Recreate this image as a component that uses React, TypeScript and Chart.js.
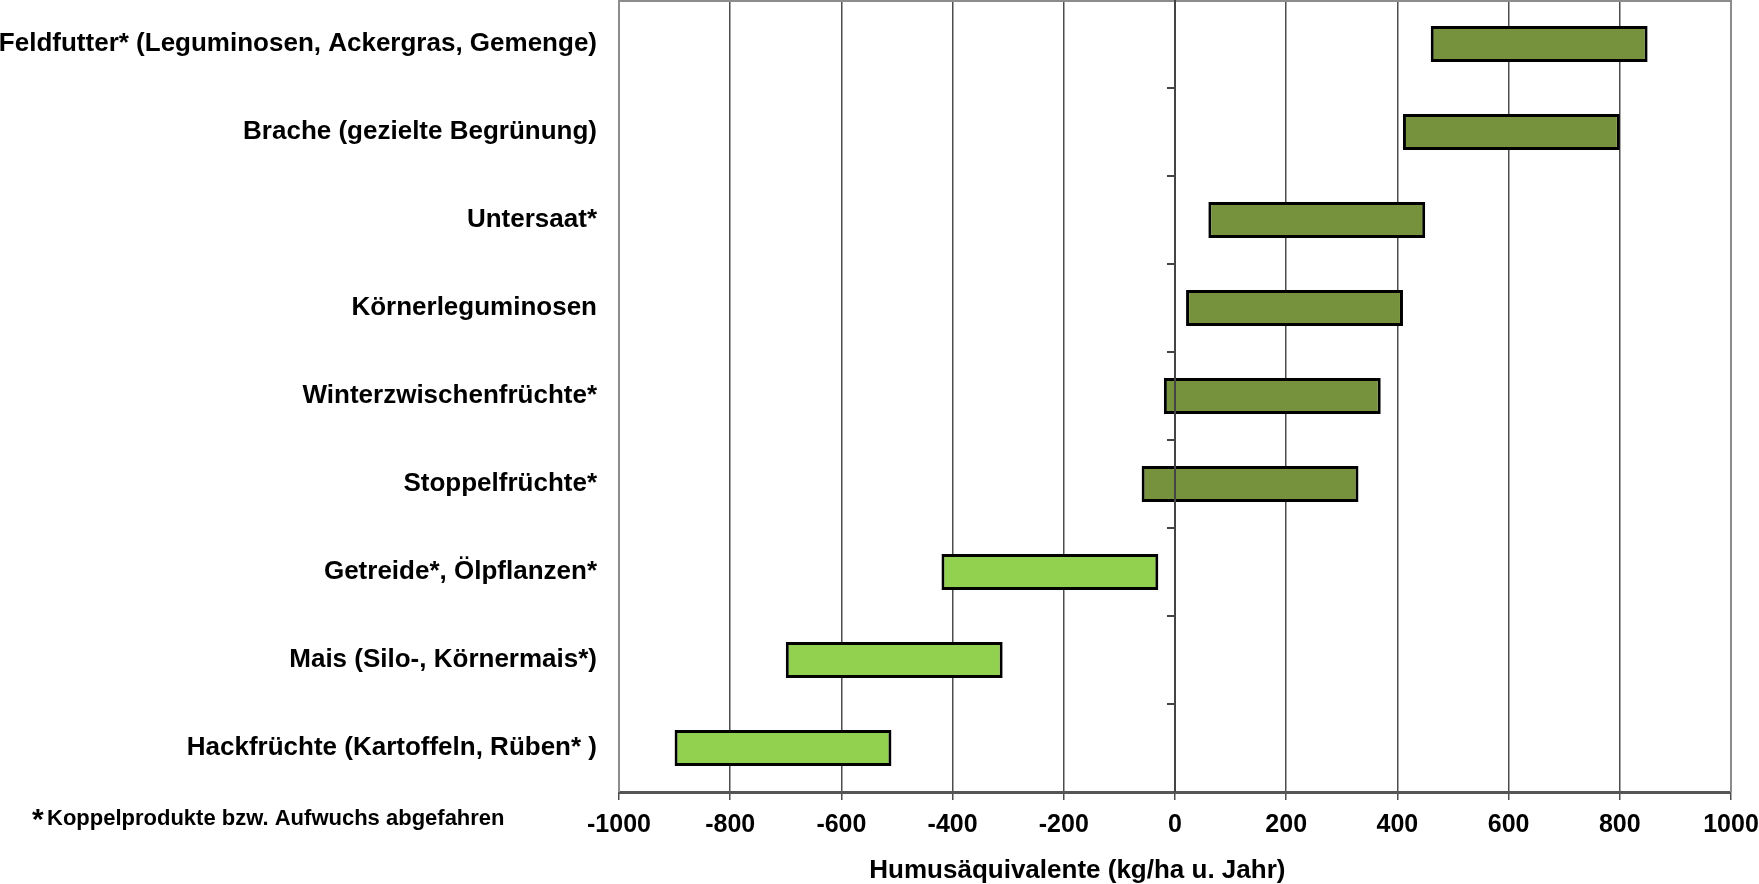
import { useEffect, useRef } from "react";
import Chart from "chart.js/auto";

// Kategorien (von oben nach unten) und Spannweiten der Humusäquivalente
const categories = [
  "Feldfutter* (Leguminosen, Ackergras, Gemenge)",
  "Brache (gezielte Begrünung)",
  "Untersaat*",
  "Körnerleguminosen",
  "Winterzwischenfrüchte*",
  "Stoppelfrüchte*",
  "Getreide*, Ölpflanzen*",
  "Mais (Silo-, Körnermais*)",
  "Hackfrüchte (Kartoffeln, Rüben* )",
];
const lowValues = [460, 410, 60, 20, -20, -60, -420, -700, -900];
const highValues = [850, 800, 450, 410, 370, 330, -30, -310, -510];

const xMin = -1000;
const xMax = 1000;
const xStep = 200;

const axisTitle = "Humusäquivalente (kg/ha u. Jahr)";
const footnoteMark = "*";
const footnoteText = "Koppelprodukte bzw. Aufwuchs abgefahren";

const FONT = '"Liberation Sans", Arial, sans-serif';
const DARK_GREEN = "#77923c";
const LIGHT_GREEN = "#92d050";
const Y_AXIS_WIDTH = 619;

const overlayPlugin = {
  id: "overlay",
  beforeDatasetsDraw(chart: Chart) {
    const { ctx, chartArea: a } = chart;
    ctx.save();
    ctx.strokeStyle = "#8c8c8c";
    ctx.lineWidth = 2;
    ctx.beginPath();
    ctx.moveTo(a.left, a.bottom);
    ctx.lineTo(a.left, a.top + 1);
    ctx.lineTo(a.right, a.top + 1);
    ctx.lineTo(a.right, a.bottom);
    ctx.stroke();
    ctx.restore();
  },
  afterDatasetsDraw(chart: Chart) {
    const { ctx, chartArea: a } = chart;
    const xs = chart.scales.x;
    const ys = chart.scales.y;
    const x0 = Math.round(xs.getPixelForValue(0));
    ctx.save();
    ctx.strokeStyle = "#444";
    ctx.lineWidth = 2;
    ctx.beginPath();
    ctx.moveTo(x0, a.top);
    ctx.lineTo(x0, a.bottom);
    // kleine Teilstriche zwischen den Kategorien
    for (let i = 1; i < categories.length; i++) {
      const y = Math.round(
        (ys.getPixelForValue(i - 1) + ys.getPixelForValue(i)) / 2,
      );
      ctx.moveTo(x0 - 8, y);
      ctx.lineTo(x0, y);
    }
    ctx.stroke();
    ctx.restore();
  },
  afterDraw(chart: Chart) {
    const { ctx, chartArea: a } = chart;
    ctx.save();
    ctx.fillStyle = "#000";
    ctx.textBaseline = "alphabetic";

    ctx.font = `bold 26px ${FONT}`;
    ctx.textAlign = "center";
    ctx.fillText(axisTitle, chart.width * 0.6125, chart.height - 6);

    ctx.textAlign = "left";
    ctx.font = `bold 30px ${FONT}`;
    ctx.fillText(footnoteMark, 32, a.bottom + 37);
    ctx.font = `bold 22px ${FONT}`;
    ctx.fillText(footnoteText, 47, a.bottom + 33);
    ctx.restore();
  },
};

const RangeChart = () => {
  const chartRef = useRef<HTMLCanvasElement | null>(null);
  const chartInstanceRef = useRef<Chart | null>(null);

  useEffect(() => {
    if (!chartRef.current) return;
    if (chartInstanceRef.current) chartInstanceRef.current.destroy();

    const ranges = categories.map((_, i) => [lowValues[i], highValues[i]]);
    const colors = highValues.map((v) => (v > 0 ? DARK_GREEN : LIGHT_GREEN));

    chartInstanceRef.current = new Chart(chartRef.current, {
      type: "bar",
      data: {
        labels: categories,
        datasets: [
          {
            data: ranges as any,
            backgroundColor: colors,
            borderColor: "#000",
            borderWidth: 3,
            borderSkipped: false,
            barPercentage: 0.41,
            categoryPercentage: 1,
          },
        ],
      },
      options: {
        indexAxis: "y",
        animation: false,
        responsive: true,
        maintainAspectRatio: false,
        layout: { padding: { top: 0, bottom: 34, left: 0, right: 0 } },
        plugins: {
          legend: { display: false },
          tooltip: { enabled: false },
        },
        scales: {
          x: {
            min: xMin,
            max: xMax,
            ticks: {
              stepSize: xStep,
              color: "#000",
              font: { family: FONT, size: 25, weight: "bold" },
              padding: 10,
              callback: (v) => String(v),
            },
            grid: {
              color: "#4d4d4d",
              lineWidth: 1.5,
              tickLength: 8,
              drawTicks: true,
            },
            border: { display: true, color: "#555", width: 3 },
            afterFit: (scale: any) => {
              scale.paddingRight = 28;
            },
          },
          y: {
            ticks: {
              color: "#000",
              font: { family: FONT, size: 26, weight: "bold" },
              padding: 22,
            },
            grid: { display: false, drawTicks: false },
            border: { display: false },
            afterFit: (scale: any) => {
              scale.width = Y_AXIS_WIDTH;
              scale.paddingTop = 0;
              scale.paddingBottom = 0;
            },
          },
        },
      },
      plugins: [overlayPlugin],
    });

    return () => {
      if (chartInstanceRef.current) {
        chartInstanceRef.current.destroy();
        chartInstanceRef.current = null;
      }
    };
  }, []);

  return (
    <div style={{ width: 1759, height: 884, position: "relative" }}>
      <canvas ref={chartRef} />
    </div>
  );
};

export default function App() {
  useEffect(() => {
    document.body.style.margin = "0";
  }, []);
  return <RangeChart />;
}
